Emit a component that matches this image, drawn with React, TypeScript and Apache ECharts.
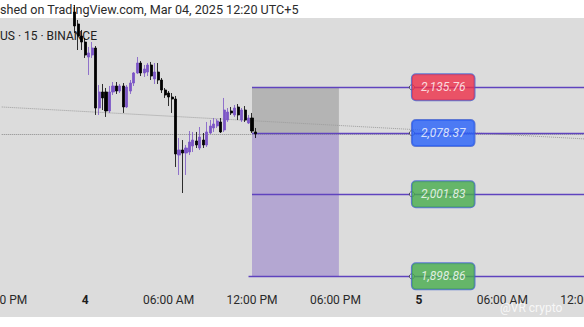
import React, { useEffect, useRef } from "react";
import * as echarts from "echarts";

// ---- data ----
const tickLabels = ["06:00 PM", "4", "06:00 AM", "12:00 PM", "06:00 PM", "5", "06:00 AM", "12:00 PM"];
const dayLabels = ["4", "5"];
const slotsPerTick = 24; // 15-minute candles, 6h per tick
const slotCount = 169;
const firstCandleSlot = 21;

const opens = [2230.1, 2215.1, 2200.0, 2192.5, 2173.7, 2176.2, 2185.0, 2109.8, 2129.9, 2129.9, 2106.1, 2129.9, 2137.4, 2131.1, 2137.4, 2111.1, 2131.1, 2141.1, 2153.7, 2166.2, 2153.7, 2154.9, 2163.7, 2146.2, 2154.9, 2144.9, 2132.4, 2128.6, 2123.6, 2121.1, 2050.9, 2057.2, 2053.4, 2054.7, 2062.2, 2068.5, 2059.7, 2069.7, 2063.5, 2078.5, 2084.8, 2087.3, 2092.3, 2082.3, 2094.8, 2106.1, 2101.1, 2111.1, 2094.8, 2107.3, 2091.0, 2097.3, 2079.8];
const closes = [2212.6, 2200.0, 2192.5, 2176.2, 2178.8, 2185.0, 2109.8, 2129.9, 2122.4, 2106.1, 2129.9, 2137.4, 2131.1, 2137.4, 2111.1, 2136.1, 2141.1, 2153.7, 2166.2, 2153.7, 2158.7, 2163.7, 2149.9, 2154.9, 2144.9, 2132.4, 2126.1, 2123.6, 2121.1, 2052.2, 2057.2, 2053.4, 2059.7, 2067.2, 2069.7, 2063.5, 2073.5, 2063.5, 2079.8, 2087.3, 2089.8, 2093.6, 2079.8, 2107.3, 2104.8, 2103.6, 2109.8, 2101.1, 2107.3, 2094.8, 2097.3, 2081.0, 2077.4];
const lows = [2203.8, 2182.5, 2182.5, 2172.5, 2151.2, 2172.5, 2101.1, 2101.1, 2107.3, 2098.6, 2103.6, 2126.1, 2127.4, 2128.6, 2103.6, 2109.8, 2127.4, 2137.4, 2152.4, 2149.9, 2148.7, 2149.9, 2144.9, 2139.9, 2139.9, 2128.6, 2122.4, 2112.3, 2103.6, 2035.9, 2025.9, 2003.3, 2025.9, 2050.9, 2054.7, 2059.7, 2057.2, 2059.7, 2061.0, 2077.2, 2079.8, 2084.8, 2078.5, 2079.8, 2092.3, 2101.1, 2098.6, 2094.8, 2092.3, 2092.3, 2089.8, 2078.5, 2072.2];
const highs = [2238.9, 2220.1, 2207.6, 2197.5, 2186.3, 2192.5, 2187.5, 2138.6, 2139.9, 2134.9, 2137.4, 2142.4, 2142.4, 2139.9, 2141.1, 2138.6, 2144.9, 2154.9, 2173.7, 2168.7, 2163.7, 2166.2, 2167.5, 2166.2, 2166.2, 2147.4, 2134.9, 2131.1, 2128.6, 2124.9, 2072.2, 2069.7, 2063.5, 2081.0, 2079.8, 2079.8, 2086.0, 2078.5, 2092.3, 2094.8, 2097.3, 2096.1, 2097.3, 2122.4, 2109.8, 2111.1, 2113.6, 2114.8, 2109.8, 2112.3, 2101.1, 2103.6, 2084.8];

const levelPrices = [2135.76, 2078.37, 2001.83, 1898.86];
const lastPrice = 2077.4;
const trendLine = [2111.1, 2071.0];
const yRange = [1886.77, 2222.6];

// ---- positions / styles ----
const levelStartSlots = [72, 72, 72, 71];
const boxEndSlot = 97;
const labelSlot = 118;
const levelColors = ["#ee2f48", "#2862fa", "#47ad4c", "#47ad4c"];

export default function App() {
  const ref = useRef<HTMLDivElement>(null);

  useEffect(() => {
    const chart = echarts.init(ref.current!, null, { renderer: "svg" });
    const categories = Array.from({ length: slotCount }, (_, i) => "s" + i);
    const candles = opens.map((o, i) => [firstCandleSlot + i, o, closes[i], lows[i], highs[i]]);
    const lastSlot = slotCount - 1;

    const levelLines = levelPrices.map((p, i) => [
      { coord: [levelStartSlots[i], p], lineStyle: { color: "#5f43be", width: 1.4, type: "solid", opacity: 1 } },
      { coord: [lastSlot, p] },
    ]);

    const fmt = (v: number) =>
      v.toLocaleString("en-US", { minimumFractionDigits: 2, maximumFractionDigits: 2 });

    chart.setOption({
      animation: false,
      grid: { left: 0, top: 18, width: slotCount * 3.476, height: 268, containLabel: false, outerBoundsMode: "none" },
      xAxis: {
        type: "category",
        data: categories,
        boundaryGap: true,
        axisLine: { show: false },
        axisTick: { show: false },
        splitLine: { show: false },
        axisLabel: {
          interval: (i: number) => i % slotsPerTick === 0,
          formatter: (_v: string, i: number) => {
            const t = tickLabels[Math.round(i / slotsPerTick)] ?? "";
            return dayLabels.includes(t) ? "{b|" + t + "}" : t;
          },
          color: "#2a2a2a",
          fontSize: 12,
          fontFamily: "Roboto",
          margin: 8,
          rich: { b: { fontWeight: "bold", fontSize: 12, fontFamily: "Roboto", color: "#1e1e1e" } },
        },
      },
      yAxis: {
        type: "value",
        min: yRange[0],
        max: yRange[1],
        show: false,
        splitLine: { show: false },
      },
      graphic: [
        {
          type: "text",
          left: 0,
          top: 3,
          z: 0,
          style: { text: "shed on TradingView.com, Mar 04, 2025 12:20 UTC+5", font: "12.6px Roboto", fill: "#2b2b2b" },
        },
        {
          type: "text",
          left: 0,
          top: 30,
          z: 0,
          style: { text: "US · 15 · BINANCE", font: "12px Roboto", fill: "#222" },
        },
        {
          type: "text",
          left: 500,
          top: 302,
          z: 100,
          style: { text: "@VR crypto", font: "12px Roboto", fill: "rgba(255,255,255,0.8)" },
        },
      ],
      series: [
        {
          name: "zones",
          type: "line",
          data: [],
          z: 1,
          silent: true,
          markArea: {
            silent: true,
            data: [
              [
                { coord: [levelStartSlots[0], levelPrices[0]], itemStyle: { color: "#b4b4b4" } },
                { coord: [boxEndSlot, levelPrices[1]] },
              ],
              [
                { coord: [levelStartSlots[1], levelPrices[1]], itemStyle: { color: "#b4a7d2" } },
                { coord: [boxEndSlot, levelPrices[3]] },
              ],
            ],
          },
          markLine: {
            silent: true,
            symbol: ["none", "none"],
            label: { show: false },
            data: [
              [
                { coord: [0, trendLine[0]], lineStyle: { color: "#9c9c9c", width: 1, type: "dotted" } },
                { coord: [lastSlot, trendLine[1]] },
              ],
              [
                { coord: [0, lastPrice], lineStyle: { color: "#8a8a8a", width: 1, type: "dotted" } },
                { coord: [lastSlot, lastPrice] },
              ],
              ...levelLines,
            ],
          },
        },
        {
          name: "ETHUSDT",
          type: "candlestick",
          z: 5,
          barWidth: 2.6,
          encode: { x: 0, y: [1, 2, 3, 4] },
          data: candles,
          itemStyle: {
            color: "#7b55c6",
            color0: "#000000",
            borderColor: "#7b55c6",
            borderColor0: "#000000",
            borderWidth: 0.8,
          },
        },
        {
          name: "levels",
          type: "scatter",
          z: 8,
          symbol: "circle",
          symbolSize: 5,
          itemStyle: { color: "#ffffff", borderColor: "#333", borderWidth: 1 },
          label: {
            show: true,
            position: "right",
            distance: -3,
            formatter: (p: any) => fmt(p.value[1]),
            color: "#ffffff",
            fontStyle: "italic",
            fontSize: 12,
            fontFamily: "Roboto",
            lineHeight: 14,
            padding: [6, 9, 6, 9],
            borderRadius: 4,
            borderColor: "#3f5fcf",
            borderWidth: 1,
          },
          data: levelPrices.map((p, i) => ({
            value: [labelSlot, p],
            label: { backgroundColor: levelColors[i] },
          })),
        },
      ],
    });
    return () => chart.dispose();
  }, []);

  return (
    <div style={{ position: "fixed", left: 0, top: 0, width: 584, height: 327, background: "#ffffff", overflow: "hidden" }}>
      <div style={{ position: "absolute", left: 0, top: 18, width: 584, height: 299, background: "#dcdcdc" }} />
      <div ref={ref} style={{ position: "absolute", left: 0, top: 0, width: 584, height: 327 }} />
    </div>
  );
}
